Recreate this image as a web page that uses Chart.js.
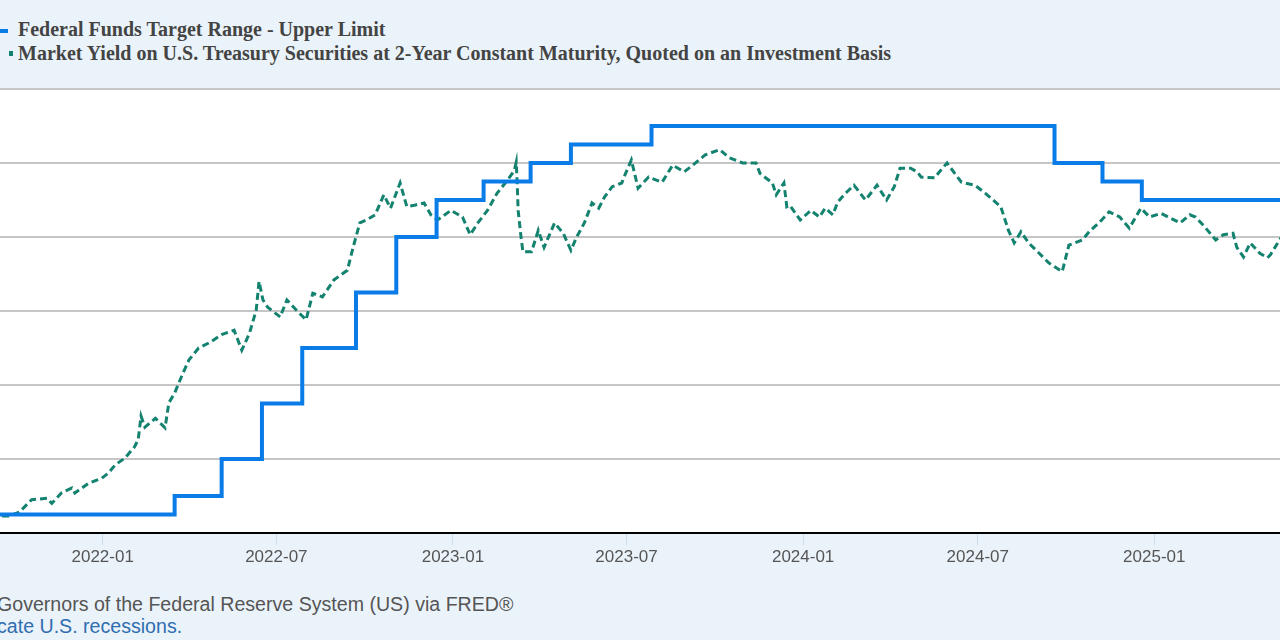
<!DOCTYPE html>
<html>
<head>
<meta charset="utf-8">
<script src="https://cdn.jsdelivr.net/npm/chart.js@4"></script>
<style>
  html, body { margin: 0; padding: 0; }
  body { width: 1280px; height: 640px; background: #ebf3fa; position: relative; overflow: hidden; }
  #wrap { position: absolute; left: 0; top: 0; width: 1280px; height: 580px; }
  .leg { position: absolute; left: 18px; font: bold 20px "Liberation Serif", "Times New Roman", serif; color: #444; white-space: nowrap; }
  .mark { position: absolute; }
  .foot { position: absolute; font: 19.6px "Liberation Sans", Arial, sans-serif; white-space: nowrap; }
</style>
</head>
<body>
<div class="mark" style="left:-2px;top:29px;width:10px;height:4px;background:#0a7ce8"></div>
<div class="leg" style="top:18px">Federal Funds Target Range - Upper Limit</div>
<div class="mark" style="left:9px;top:51px;width:4px;height:5px;background:#13826f"></div>
<div class="leg" style="top:42px">Market Yield on U.S. Treasury Securities at 2-Year Constant Maturity, Quoted on an Investment Basis</div>
<div id="wrap"><canvas id="chartRates"></canvas></div>
<div class="foot" style="left:-3px;top:593px;color:#555">Governors of the Federal Reserve System (US) via FRED®</div>
<div class="foot" style="left:-3px;top:615px;color:#2f6db0">cate U.S. recessions.</div>
<script>
// x range of the visible window
const xStart = "2021-09-16";
const xEnd = "2025-05-12";

const tickLabels = ["2022-01", "2022-07", "2023-01", "2023-07", "2024-01", "2024-07", "2025-01"];

// fed funds upper limit, value from each date on
const fedDates = ["2021-09-01", "2022-03-17", "2022-05-05", "2022-06-16", "2022-07-28", "2022-09-22",
  "2022-11-03", "2022-12-15", "2023-02-02", "2023-03-23", "2023-05-04", "2023-07-27",
  "2024-09-19", "2024-11-08", "2024-12-19", "2025-06-01"];
const fedUpper = [0.25, 0.5, 1.0, 1.75, 2.5, 3.25, 4.0, 4.5, 4.75, 5.0, 5.25, 5.5, 5.0, 4.75, 4.5, 4.5];

// 2-year treasury yield
const dgsDates = ["2021-09-18", "2021-09-25", "2021-10-06", "2021-10-19", "2021-11-04", "2021-11-09",
  "2021-11-19", "2021-11-30", "2021-12-03", "2021-12-17", "2021-12-31", "2022-01-07",
  "2022-01-14", "2022-01-24", "2022-02-03", "2022-02-07", "2022-02-10", "2022-02-14",
  "2022-02-25", "2022-03-07", "2022-03-11", "2022-03-17", "2022-03-25", "2022-04-01",
  "2022-04-11", "2022-04-22", "2022-05-05", "2022-05-18", "2022-05-26", "2022-06-03",
  "2022-06-10", "2022-06-13", "2022-06-17", "2022-06-22", "2022-07-05", "2022-07-12",
  "2022-07-22", "2022-08-01", "2022-08-08", "2022-08-18", "2022-08-30", "2022-09-13",
  "2022-09-19", "2022-09-26", "2022-10-03", "2022-10-12", "2022-10-21", "2022-10-28",
  "2022-11-07", "2022-11-14", "2022-11-22", "2022-12-02", "2022-12-09", "2022-12-16",
  "2022-12-30", "2023-01-11", "2023-01-19", "2023-01-27", "2023-02-06", "2023-02-16",
  "2023-02-27", "2023-03-06", "2023-03-08", "2023-03-09", "2023-03-10", "2023-03-13",
  "2023-03-15", "2023-03-24", "2023-03-31", "2023-04-06", "2023-04-17", "2023-04-26",
  "2023-05-04", "2023-05-10", "2023-05-18", "2023-05-26", "2023-06-02", "2023-06-08",
  "2023-06-16", "2023-06-26", "2023-06-30", "2023-07-06", "2023-07-13", "2023-07-24",
  "2023-08-07", "2023-08-18", "2023-08-30", "2023-09-08", "2023-09-21", "2023-10-06",
  "2023-10-16", "2023-10-30", "2023-11-13", "2023-11-17", "2023-11-30", "2023-12-04",
  "2023-12-12", "2023-12-15", "2023-12-18", "2023-12-29", "2024-01-09", "2024-01-18",
  "2024-01-24", "2024-02-01", "2024-02-06", "2024-02-14", "2024-02-23", "2024-03-06",
  "2024-03-18", "2024-03-28", "2024-04-05", "2024-04-11", "2024-04-22", "2024-04-29",
  "2024-05-03", "2024-05-17", "2024-05-24", "2024-05-30", "2024-06-07", "2024-06-14",
  "2024-06-28", "2024-07-09", "2024-07-25", "2024-08-02", "2024-08-08", "2024-08-15",
  "2024-08-23", "2024-09-03", "2024-09-13", "2024-09-20", "2024-09-27", "2024-10-04",
  "2024-10-18", "2024-10-25", "2024-11-05", "2024-11-15", "2024-11-26", "2024-12-06",
  "2024-12-18", "2024-12-27", "2025-01-08", "2025-01-17", "2025-01-28", "2025-02-07",
  "2025-02-13", "2025-02-21", "2025-03-06", "2025-03-14", "2025-03-24", "2025-03-28",
  "2025-04-04", "2025-04-11", "2025-04-21", "2025-04-29", "2025-05-02", "2025-05-13"];
const dgsYield = [0.23, 0.23, 0.28, 0.45, 0.47, 0.40,
  0.54, 0.61, 0.54, 0.67, 0.74, 0.81,
  0.92, 1.01, 1.16, 1.26, 1.58, 1.43,
  1.55, 1.42, 1.76, 1.89, 2.14, 2.34,
  2.50, 2.57, 2.68, 2.74, 2.47, 2.70,
  3.01, 3.40, 3.15, 3.05, 2.92, 3.15,
  3.01, 2.88, 3.24, 3.19, 3.42, 3.55,
  3.86, 4.19, 4.23, 4.30, 4.57, 4.39,
  4.73, 4.41, 4.43, 4.46, 4.30, 4.23,
  4.36, 4.27, 4.03, 4.19, 4.36, 4.59,
  4.77, 4.90, 5.01, 4.73, 4.36, 4.00,
  3.80, 3.80, 4.09, 3.86, 4.19, 4.05,
  3.82, 4.00, 4.19, 4.46, 4.39, 4.54,
  4.68, 4.73, 4.86, 5.04, 4.66, 4.81,
  4.74, 4.97, 4.88, 4.97, 5.11, 5.18,
  5.07, 5.00, 5.00, 4.86, 4.73, 4.57,
  4.73, 4.41, 4.43, 4.23, 4.36, 4.27,
  4.39, 4.30, 4.47, 4.59, 4.70, 4.50,
  4.70, 4.50, 4.68, 4.93, 4.93, 4.88,
  4.81, 4.80, 4.91, 5.00, 4.86, 4.74,
  4.70, 4.59, 4.41, 4.09, 3.92, 4.07,
  3.92, 3.78, 3.65, 3.59, 3.53, 3.89,
  3.96, 4.07, 4.20, 4.34, 4.27, 4.12,
  4.39, 4.27, 4.32, 4.26, 4.19, 4.30,
  4.27, 4.16, 3.96, 4.03, 4.05, 3.86,
  3.73, 3.92, 3.78, 3.72, 3.76, 3.99];

function dayNum(s) {
  const p = s.split("-").map(Number);
  return Date.UTC(p[0], p[1] - 1, p[2] || 1) / 86400000;
}

const tickDays = tickLabels.map(dayNum);

const plotBg = {
  id: "plotBg",
  beforeDraw(chart) {
    const a = chart.chartArea;
    const c = chart.ctx;
    c.save();
    c.fillStyle = "#ffffff";
    c.fillRect(a.left, a.top, a.right - a.left, a.bottom - a.top);
    c.restore();
  }
};

let ctx = document.getElementById("chartRates");

const myChart = new Chart(ctx, {
  type: "line",
  data: {
    datasets: [
      {
        label: "Federal Funds Target Range - Upper Limit",
        data: fedDates.map((d, i) => ({ x: dayNum(d), y: fedUpper[i] })),
        borderColor: "#0a7ce8",
        borderWidth: 4,
        stepped: "before",
        pointRadius: 0,
      },
      {
        label: "Market Yield on U.S. Treasury Securities at 2-Year Constant Maturity, Quoted on an Investment Basis",
        data: dgsDates.map((d, i) => ({ x: dayNum(d), y: dgsYield[i] })),
        borderColor: "#13826f",
        borderWidth: 3,
        borderDash: [7, 4],
        pointRadius: 0,
        tension: 0,
      },
    ],
  },
  options: {
    responsive: true,
    maintainAspectRatio: false,
    animation: false,
    layout: { padding: { top: 89, left: 0, right: 0, bottom: 0 } },
    plugins: {
      legend: { display: false },
      tooltip: { enabled: false },
    },
    scales: {
      x: {
        type: "linear",
        min: dayNum(xStart),
        max: dayNum(xEnd),
        afterBuildTicks: (scale) => { scale.ticks = tickDays.map((v) => ({ value: v })); },
        afterFit: (scale) => { scale.height = 47; },
        grid: { drawOnChartArea: false, drawTicks: true, tickLength: 12, color: "#cfdde9" },
        border: { display: true, color: "#000000", width: 2 },
        ticks: {
          padding: 2,
          maxRotation: 0,
          autoSkip: false,
          color: "#555",
          font: { family: "'Liberation Sans', Arial, sans-serif", size: 17 },
          callback: (v) => tickLabels[tickDays.indexOf(v)],
        },
      },
      y: {
        min: 0,
        max: 6,
        afterFit: (scale) => { scale.width = 0; },
        grid: { color: "#c6c6c6", lineWidth: 2, drawTicks: false },
        border: { display: false },
        ticks: { display: false, stepSize: 1 },
      },
    },
  },
  plugins: [plotBg],
});
</script>
</body>
</html>
